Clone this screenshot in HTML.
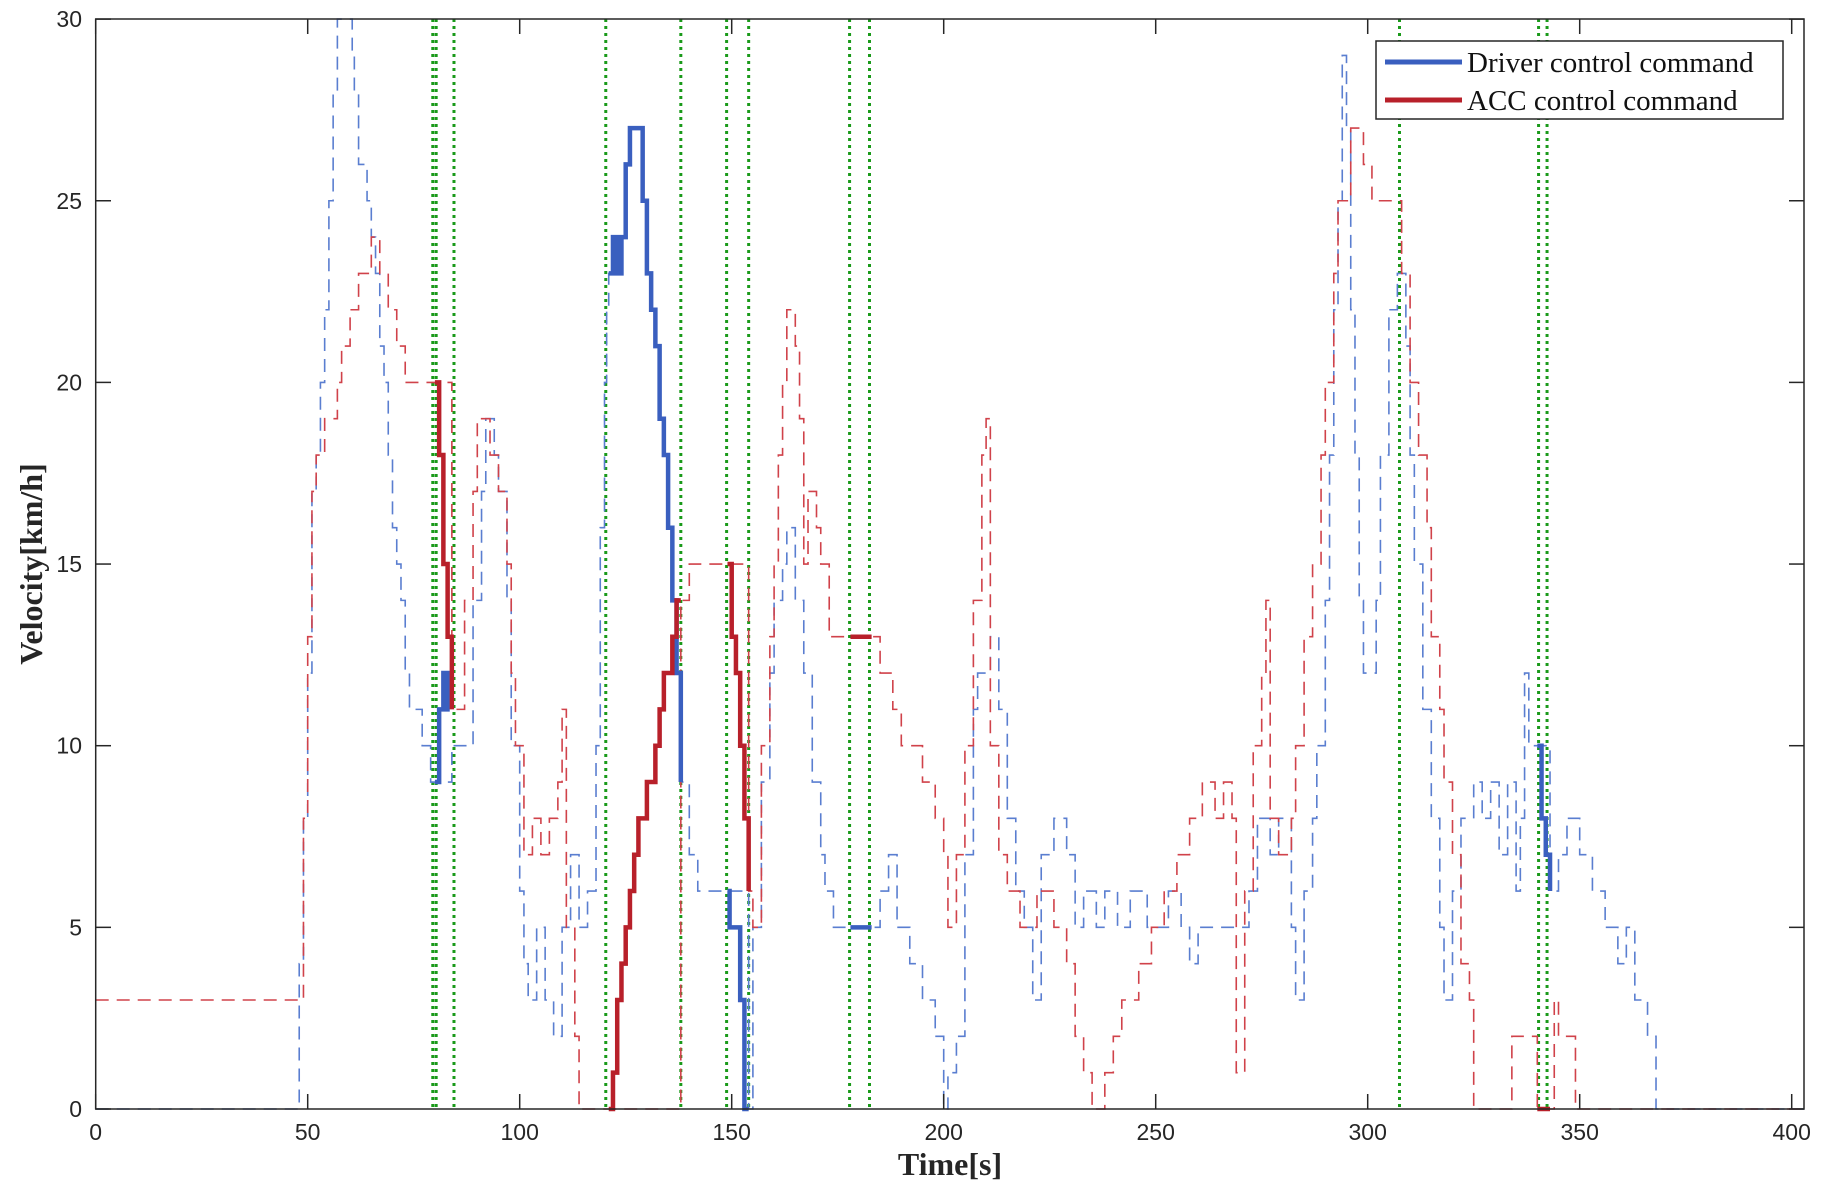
<!DOCTYPE html>
<html><head><meta charset="utf-8"><style>body{margin:0;background:#fff}svg{display:block}</style></head>
<body>
<svg id="s" width="1822" height="1195" xmlns="http://www.w3.org/2000/svg" font-family="Liberation Sans, sans-serif">
<rect width="1822" height="1195" fill="#fff"/>
<g id="g"></g>
<rect x="95.7" y="19" width="1708.3" height="1090" fill="none" stroke="#262626" stroke-width="1.5"/>
<g id="ax" fill="#262626" font-size="23"></g>
<text x="950" y="1175" text-anchor="middle" font-family="Liberation Serif, serif" font-weight="bold" font-size="32" fill="#262626">Time[s]</text>
<text transform="translate(42,564) rotate(-90)" text-anchor="middle" font-family="Liberation Serif, serif" font-weight="bold" font-size="32" fill="#262626">Velocity[km/h]</text>
<rect x="1376" y="41" width="407" height="78" fill="#fff" stroke="#262626" stroke-width="1.5"/>
<line x1="1385" y1="62" x2="1462" y2="62" stroke="#3a5fbf" stroke-width="5"/>
<line x1="1385" y1="100" x2="1462" y2="100" stroke="#b8202a" stroke-width="5"/>
<text x="1467" y="72" font-family="Liberation Serif, serif" font-size="29" fill="#111">Driver control command</text>
<text x="1467" y="110" font-family="Liberation Serif, serif" font-size="29" fill="#111">ACC control command</text>
</svg>
<script>
const X=t=>95.7+t*4.24, Y=v=>1109-v*36.33;
const NS="http://www.w3.org/2000/svg";
const g=document.getElementById('g'), ax=document.getElementById('ax');
function el(p,tag,a){const e=document.createElementNS(NS,tag);for(const k in a)e.setAttribute(k,a[k]);p.appendChild(e);return e;}
function step(pts){let d='M'+X(pts[0][0])+' '+Y(pts[0][1]);for(let i=1;i<pts.length;i++){d+='H'+X(pts[i][0])+'V'+Y(pts[i][1]);}return d;}
const mid=[[121,23],[122,24],[123,23],[124,24],[125,26],[126,27],[128,27],[129,25],[130,23],[131,22],[132,21],[133,19],[134,18],[135,16],[136,14],[137,12],[138,9]];
const blue=[[0,0],[47,0],[48,4],[49,8],[50,12],[51,17],[52,18],[53,20],[54,22],[55,25],[56,28],[57,30],[60,30],[60.5,29],[61,28],[62,26],[64,25],[65,24],[66,23],[67,21],[68,20],[69,18],[70,16],[71,15],[72,14],[73,12],[74,11],[76,11],[77,10],[79,9],[80,9],[84,10],[88,10],[89,14],[91,17],[92,19],[94,18],[95,17],[97,14],[98,10],[100,6],[101,4],[102,3],[104,5],[106,3],[108,2],[110,5],[112,7],[114,5],[116,6],[118,10],[119,16],[120,20],[120.5,22]].concat(mid,[[140,7],[142,6],[149,6],[154,0],[155,5],[157,9],[159,12],[160,14],[162,15],[163,16],[165,14],[167,12],[169,9],[171,7],[172,6],[174,5],[185,6],[187,7],[189,5],[192,4],[195,3],[198,2],[200,0],[201,1],[203,2],[205,7],[207,11],[208,12],[211,13],[213,11],[215,8],[217,6],[219,5],[221,3],[223,7],[226,8],[229,7],[231,5],[233,6],[236,5],[238,6],[241,5],[244,6],[248,5],[253,6],[256,5],[258,4],[260,5],[270,5],[272,6],[274,8],[277,7],[279,8],[282,5],[283,3],[285,6],[287,8],[288,10],[290,14],[291,18],[292,22],[293,25],[294,29],[295,27],[296,22],[297,18],[298,14],[299,12],[302,14],[303,18],[305,22],[307,23],[309,21],[310,18],[311,15],[313,11],[315,8],[317,5],[318,3],[320,6],[322,8],[325,9],[327,8],[329,9],[331,7],[333,9],[335,6],[336,8],[337,12],[338,10],[340,10],[343,6],[345,7],[347,8],[350,7],[353,6],[356,5],[359,4],[361,5],[363,3],[366,2],[368,0],[403,0]]);
const red=[[0,3],[48,3],[49,8],[50,13],[51,17],[52,18],[54,19],[57,20],[58,21],[60,22],[62,23],[65,24],[67,23],[69,22],[71,21],[73,20],[80,20],[84,11],[86,11],[87,14],[89,17],[90,19],[93,18],[95,17],[97,15],[98,12],[99,10],[101,7],[103,8],[105,7],[107,8],[109,9],[110,11],[111,5],[113,2],[114,0],[121,0],[138,14],[140,15],[149,15],[154,6],[155,5],[157,10],[159,13],[160,15],[161,18],[162,20],[163,22],[165,21],[166,19],[167,15],[168,17],[170,16],[171,15],[173,13],[178,13],[183,13],[185,12],[188,11],[190,10],[195,9],[198,8],[200,7],[201,5],[203,7],[205,10],[207,14],[209,18],[210,19],[211,10],[213,7],[215,6],[218,5],[222,6],[226,5],[229,4],[231,2],[233,1],[235,0],[238,1],[240,2],[242,3],[246,4],[249,5],[252,6],[255,7],[258,8],[261,9],[264,8],[266,9],[268,8],[269,1],[271,6],[273,10],[275,12],[276,14],[277,8],[279,7],[282,8],[283,10],[285,13],[287,15],[289,18],[290,20],[292,23],[293,25],[296,27],[299,26],[301,25],[307,25],[308,23],[310,20],[312,18],[314,16],[315,13],[317,11],[318,9],[320,7],[322,4],[324,3],[325,0],[333,0],[334,2],[338,2],[340,0],[343,0],[344,3],[345,2],[348,2],[349,0],[403,0]];
[79.5,80.3,84.5,120.3,138,148.8,154,177.8,182.5,307.5,340.3,342.3].forEach(t=>el(g,'line',{x1:X(t),x2:X(t),y1:19,y2:1109,stroke:'#1a9a1a','stroke-width':3,'stroke-dasharray':'3 4'}));
el(g,'path',{d:step(blue),fill:'none',stroke:'#5a7ed0','stroke-width':1.6,'stroke-dasharray':'13 8'});
el(g,'path',{d:step(red),fill:'none',stroke:'#d0424a','stroke-width':1.6,'stroke-dasharray':'13 8'});
const tb=[[[80,9],[81,11],[82,12],[83,11],[83.5,11]],mid,[[149,6],[149.5,5],[151,5],[152,3],[153,0],[154,0]],[[178,5],[183,5]],[[340,10],[341,8],[342,7],[343,6]]];
const tr=[[[80,20],[81,18],[82,15],[83,13],[84,11]],[[121,0],[122,1],[123,3],[124,4],[125,5],[126,6],[127,7],[128,8],[130,9],[132,10],[133,11],[134,12],[136,13],[137,14],[138,14]],[[149,15],[150,13],[151,12],[152,10],[153,8],[154,6]],[[178,13],[183,13]],[[340,0],[343,0]]];
tb.forEach(p=>el(g,'path',{d:step(p),fill:'none',stroke:'#3a5fbf','stroke-width':4.5}));
tr.forEach(p=>el(g,'path',{d:step(p),fill:'none',stroke:'#b8202a','stroke-width':4.5}));
for(let v=0;v<=30;v+=5){const y=Y(v);el(ax,'line',{x1:95.7,x2:111,y1:y,y2:y,stroke:'#262626','stroke-width':1.5});el(ax,'line',{x1:1804,x2:1789,y1:y,y2:y,stroke:'#262626','stroke-width':1.5});el(ax,'text',{x:82,y:y+8,'text-anchor':'end'}).textContent=v;}
for(let t=0;t<=400;t+=50){const x=X(t);el(ax,'line',{x1:x,x2:x,y1:1109,y2:1094,stroke:'#262626','stroke-width':1.5});el(ax,'line',{x1:x,x2:x,y1:19,y2:34,stroke:'#262626','stroke-width':1.5});el(ax,'text',{x:x,y:1140,'text-anchor':'middle'}).textContent=t;}
</script>
</body></html>
